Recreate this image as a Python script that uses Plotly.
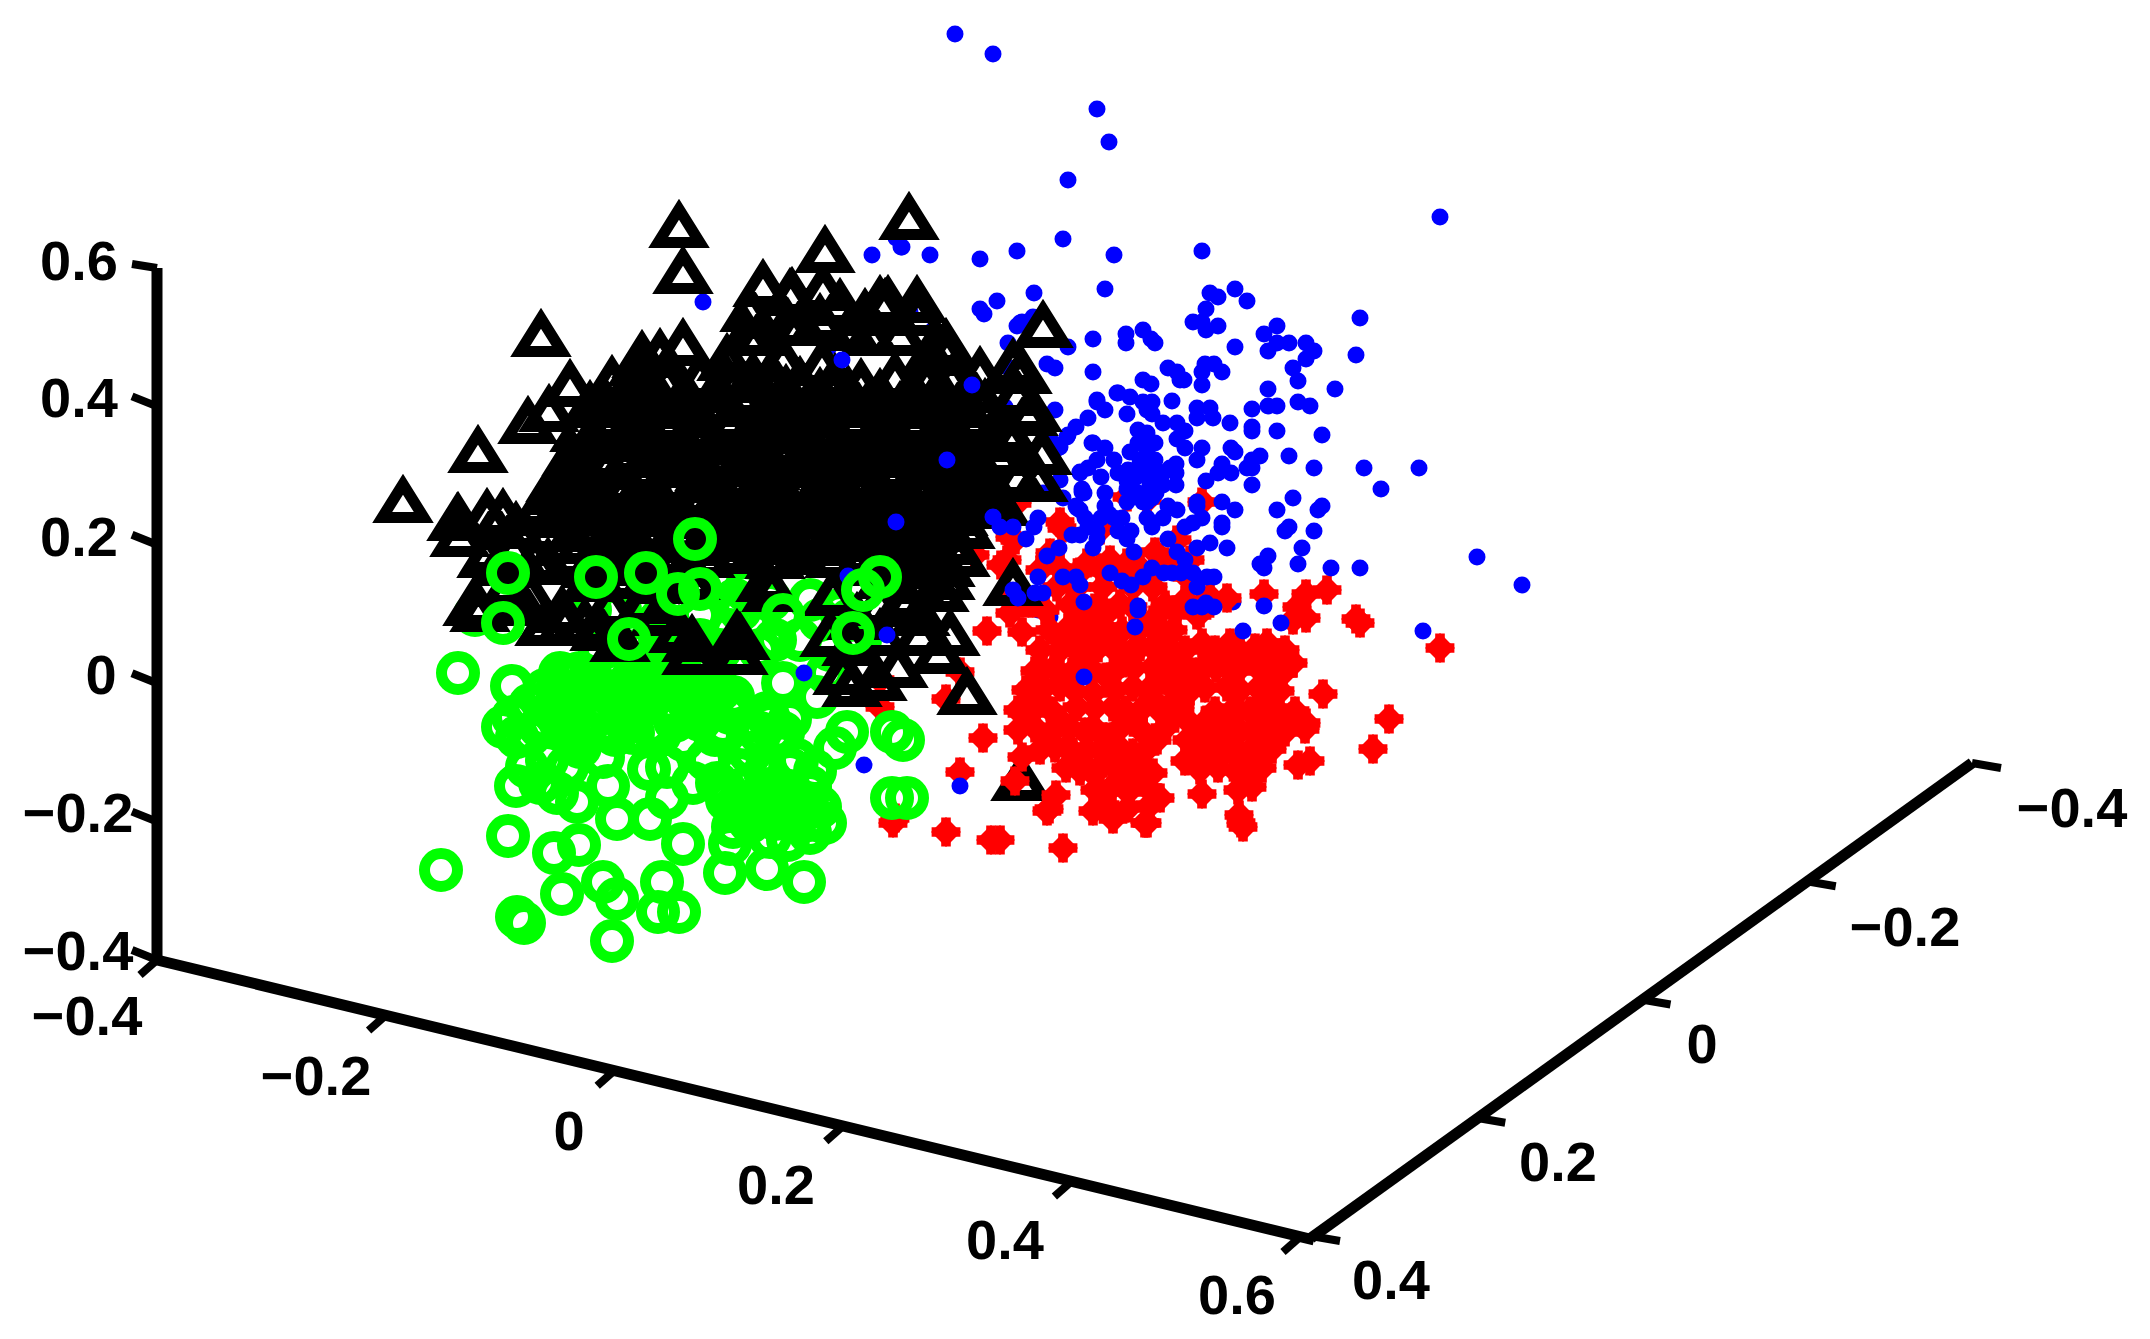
import plotly.graph_objects as go

# Positions on the view plane of the 3-D plot
blue = [(955,34),(993,54),(1097,109),(1109,142),(1068,180),(1063,239),(1114,255),(1202,251),(1017,251),(980,259),(930,255),(902,247),
(1034,293),(1105,289),(997,301),(980,309),(984,314),(1210,293),(1218,297),(1235,289),(1247,301),(1206,309),(1193,322),(1202,322),(1218,326),(1206,330),
(1277,326),(1264,334),(1277,343),(1289,343),(1268,351),(1235,347),(1126,334),(1126,343),(1143,330),(1151,339),(1155,343),(1093,339),(1068,347),(1093,372),
(1047,364),(1055,368),(1168,368),(1177,372),(1184,380),(1180,380),(1205,364),(1214,364),(1202,372),(1222,372),(1202,385),(1143,380),(1151,384),
(1118,393),(1130,397),(1097,400),(1143,402),(1152,402),(1268,389),(1293,368),(1298,381),(1017,326),(1022,322),(1033,317),(1008,343),(1009,368),
(1172,401),(1197,408),(1210,408),(1197,418),(1213,418),(1230,423),(1252,409),(1252,427),(1252,431),(1268,406),(1277,406),(1298,402),(1310,406),(1335,389),
(1306,359),(1314,351),(1306,343),(1360,318),(1356,355),(1277,431),(1322,435),(1289,456),(1314,468),(1364,468),(1381,489),(1293,498),(1277,510),(1318,510),(1322,506),
(1289,527),(1285,531),(1314,531),(1302,548),(1298,564),(1268,556),(1260,564),(1264,568),(1331,568),(1360,568),(1227,548),(1197,548),(1210,543),(1222,523),(1222,527),
(1222,502),(1235,510),(1252,485),(1231,448),(1235,452),(1260,456),(1252,460),(1247,468),(1252,468),(1222,464),(1218,473),(1231,473),(1206,481),(1197,460),(1202,448),
(1185,448),(1177,439),(1185,431),(1177,423),(1163,423),(1138,430),(1147,433),(1155,443),(1130,452),(1138,443),(1147,452),(1155,460),(1138,468),(1147,477),(1155,468),
(1163,473),(1176,464),(1176,473),(1176,485),(1163,485),(1127,481),(1127,489),(1127,502),(1138,493),(1147,502),(1156,493),(1117,393),(1147,410),(1152,414),(1127,414),
(1097,402),(1105,410),(1088,418),(1076,427),(1068,435),(1093,443),(1105,448),(1114,460),(1097,460),(1088,468),(1080,473),(1101,477),(1118,473),
(1082,489),(1084,493),(1063,498),(1076,506),(1080,510),(1085,518),(1088,527),(1101,518),(1097,531),(1097,539),(1080,535),(1072,535),(1093,548),
(1105,493),(1105,506),(1109,514),(1114,518),(1122,518),(1118,531),(1127,539),(1134,552),(1131,531),(1143,502),(1152,498),(1147,518),(1152,527),(1163,518),(1168,506),(1177,510),
(1197,502),(1197,506),(1202,518),(1193,523),(1185,527),(1168,539),(1177,552),(1185,560),(1152,568),(1143,577),(1164,573),(1172,573),(1181,573),(1193,573),(1207,577),(1214,577),(1197,587),
(1110,573),(1122,581),(1131,585),(1063,577),(1076,577),(1080,585),(1084,602),(1138,606),(1138,610),(1193,607),(1202,607),(1206,603),(1214,607),(1264,606),
(1243,631),(1281,623),(1135,627),(1084,677),(1419,468),(1440,217),(1423,631),(1477,557),(1522,585),
(1055,410),(1043,493),(1053,443),(1060,447),(1060,480),(872,255),(896,238),(901,247),(703,302),(829,347),(876,407),(713,472),(930,437),(900,323),(933,330),(910,312),(923,350),
(1020,323),(997,427),(973,403),(1005,407),(1058,448),(1082,492),(1077,508),(1092,443),(1080,472),(1067,437),
(1145,440),(1140,460),(1150,485),(1135,478),(1160,480),(1170,468),(1145,462),(1128,470),(1155,478)]
blue_under = [(1302,617),(1233,602),(1125,653),(1183,658),(1088,653),(1050,617),(1038,610)]
blue_front = [(842,360),(947,460),(972,385),(896,522),(993,517),(1013,590),(1018,598),(1035,593),(1043,593),(1038,577),(1047,556),(1059,548),(1034,527),(1038,518),(1000,527),(1013,527),(1026,539),
(804,673),(848,576),(864,765),(960,786),(887,635)]

red = [(1440,648),(1389,719),(1373,749),(1323,694),(1356,619),(1360,623),(1327,590),(1306,594),(1264,594),(1227,598),(1306,723),(1310,761),(1298,765),(1202,794),(1239,815),(1243,827),
(1063,848),(1000,840),(1047,811),(1093,811),(1113,819),(1147,823),(1160,798),(1185,761),(1243,777),(1257,768),(1243,760),(1267,743),(1280,720),(1260,720),(1022,757),(1022,632),(1022,713),(1033,687),(1060,650),
(1293,663),(1280,653),(1267,643),(1230,643),(1202,643),(1293,620),(1306,618),(1297,607),(1197,615),(1167,637),
(1043,670),(1060,687),(1043,703),(1027,713),(1060,720),(1077,707),(1093,693),(1107,677),(1123,663),(1140,647),(1153,667),(1133,687),(1113,707),(1093,727),(1067,747),(1047,737),(1087,750),(1110,737),(1133,720),(1153,700),
(1173,680),(1187,667),(1207,663),(1227,667),(1247,660),(1267,667),(1283,673),(1267,693),(1260,707),(1230,717),(1207,720),(1187,720),(1170,707),(1187,740),(1157,740),(1133,753),(1113,763),(1093,773),(1133,780),(1153,773),
(1213,740),(1233,733),(1253,733),(1277,720),(1293,717),(1227,687),(1113,637),(1090,643),(1067,637),(1083,620),(1107,613),(1133,607),(1153,587),(1153,620),(1177,610),(1173,630),
(1202,502),(1155,552),(1060,522),(1100,530),(1177,540),(1147,500),(1010,537),(1050,553),(1110,560),(1087,563),(1187,577),(1127,563),(1153,573),(1077,587),(1103,587),(1133,587),(1057,587),(1033,603),(1007,560),(1007,597),(1010,613),(1200,613),(1127,497),(1017,503),
(925,558),(1001,565),(1062,528),(960,772),(983,738),(946,832),(991,840),(895,818),(1145,823),(1241,823),(960,672),(987,631),(946,699),(1056,795),(1049,809),(1015,781),(880,680),(880,707),(893,823),(767,800),(975,555),(945,580),(1028,603),(1015,540)]
red_core = [(1050,630),(1068,628),(1086,632),(1104,627),(1122,631),(1140,629),(1158,632),(1040,650),(1078,652),(1098,648),(1116,651),(1134,649),(1152,647),(1170,650),(1215,650),(1240,651),(1255,648),(1285,650),
(1035,671),(1054,668),(1072,672),(1090,668),(1116,670),(1134,668),(1170,667),(1196,672),(1216,668),(1237,671),(1258,668),(1275,672),
(1026,690),(1044,688),(1075,691),(1115,690),(1150,688),(1190,691),(1205,688),(1240,690),(1258,688),(1280,691),
(1018,710),(1036,708),(1052,711),(1095,708),(1125,710),(1143,708),(1160,711),(1180,708),(1215,711),(1235,708),(1250,711),(1275,708),(1295,711),
(1018,730),(1035,728),(1052,732),(1070,728),(1085,732),(1120,728),(1143,732),(1165,728),(1200,732),(1222,728),(1240,731),(1262,728),(1285,732),(1305,729),
(1040,750),(1055,748),(1073,752),(1100,750),(1120,748),(1145,751),(1195,749),(1210,752),(1228,749),(1250,751),(1272,749),
(1066,768),(1080,771),(1100,768),(1122,771),(1140,768),(1200,770),(1218,768),(1236,771),(1262,768),
(1095,790),(1112,787),(1128,792),(1148,788),(1238,790),(1252,787),(1105,805),(1128,808),(1150,805),
(1040,570),(1060,568),(1080,572),(1100,568),(1120,572),(1140,568),(1170,565),(1190,560),(1045,610),(1070,605),(1095,608),(1120,604),(1165,605),(1185,600),(1210,597),
(1172,650),(1172,665),(1175,690),(1165,680),(1180,700),(1165,650),(1185,650),(1180,680)]

green = [(441,870),(508,836),(458,673),(512,686),(517,917),(524,923),(612,941),(554,853),(579,845),(562,894),(603,882),(617,899),(658,912),(679,912),(662,882),(683,844),(725,873),(767,869),(804,882),
(617,819),(650,819),(667,798),(608,786),(516,786),(577,802),(557,793),(603,757),(649,769),(667,767),(825,823),(788,840),(730,844),(810,833),(835,748),(847,732),(892,732),(903,740),(892,798),(907,798),
(513,717),(503,727),(517,737),(540,727),(560,673),(557,690),(580,673),(607,673),(633,677),(650,680),(677,687),(693,700),(560,713),(580,727),(603,703),(627,713),(650,727),(633,733),(683,740),(707,760),
(767,713),(783,733),(797,760),(810,787),(750,753),(747,787),(727,800),(777,793),(760,813),(800,807),(733,827),(787,817),(547,760),(567,767),(580,747),(540,783),(527,767),(723,727),(760,733),(693,783),(717,783),
(733,697),(730,713),(783,683),(817,697),(827,673),(475,615),(700,640),(740,610),(770,600),(660,640),(620,610),(800,640),
(570,675),(590,677),(615,674),(640,676),(660,675),(685,678),(700,674),(545,690),(565,692),(590,689),(610,691),(630,690),(655,692),(675,689),(700,691),(720,690),
(530,705),(555,707),(575,704),(595,706),(620,705),(640,707),(665,704),(690,706),(710,705),(735,707),(545,722),(565,719),(590,721),(625,722),(675,721),(700,720),(790,719),(770,721),
(530,735),(570,734),(615,735),(660,734),(715,735),(775,734),
(740,770),(765,772),(790,769),(815,771),(725,790),(770,789),(790,791),(810,790),(735,807),(755,804),(780,806),(800,805),(820,807),(750,822),(775,819),(795,821),(810,820),(770,837),
(590,610),(625,585),(660,620),(700,615),(735,600),(810,600),(840,610),(760,650),(720,650),(680,650),(640,650),(600,650),(830,650),(860,640),(745,590),(775,640),(820,620),(730,630),(850,620)]
green_front = [(695,539),(508,573),(646,573),(596,577),(678,594),(700,589),(503,623),(629,639),(783,615),(863,590),(880,577),(853,633)]

black = [(679,232),(683,278),(541,341),(570,391),(528,428),(549,416),(478,457),(403,507),(604,407),(642,362),(683,350),(553,499),(457,525),(487,520),(503,520),(516,533),(570,483),(580,483),
(909,224),(825,257),(763,291),(750,316),(792,299),(880,307),(888,307),(917,307),(947,360),(980,378),(1043,332),(1013,370),(1017,400),(1028,420),(1038,486),(1032,416),(1013,446),(987,506),(938,513),(725,383),(822,370),(783,366),(753,383),
(967,699),(939,658),(943,528),(877,685),(843,679),(857,624),(740,644),(679,637),(562,617),(548,569),(473,610),(487,562),(514,555),(939,596),(905,603),(898,672),(1042,459),
(480,616),(565,629),(692,646),(737,641),(738,659),(692,659),(833,600),(772,596),(830,641),(852,691),(852,650),(620,646),(766,586),(607,566),(460,541),(458,524),(490,557),(555,520),(1013,590),
(638,370),(660,360),(727,365),(747,340),(788,330),(823,295),(865,320),(885,310),(918,320),(946,350),(1022,378),(790,300),(840,310),(800,330),(760,340),(850,335),(900,340),(930,360),(870,340),(820,325),
(612,387),(640,380),(667,389),(700,383),(737,387),(771,381),(800,388),(835,385),(861,390),(895,383),(927,389),(952,385),
(590,412),(622,408),(650,413),(681,407),(715,411),(745,409),(776,414),(810,408),(840,412),(871,407),(900,413),(931,409),(960,412),(985,410),
(580,436),(611,433),(641,438),(670,434),(702,437),(730,432),(765,438),(796,434),(826,437),(855,432),(886,438),(915,434),(946,436),(975,433),(1005,437),
(572,460),(600,463),(632,458),(662,462),(691,459),(725,464),(755,458),(786,463),(815,459),(848,464),(878,458),(910,462),(940,459),(968,463),(998,460),
(556,486),(585,482),(615,488),(646,484),(680,487),(710,483),(740,488),(771,484),(805,487),(835,482),(865,488),(895,483),(925,487),(955,484),(985,486),(1018,482),
(541,511),(575,508),(605,513),(636,508),(665,512),(700,507),(730,513),(760,508),(790,512),(825,509),(855,513),(885,508),(915,512),(950,509),(975,513),(1000,510),
(550,536),(590,533),(622,538),(651,534),(685,537),(715,533),(745,538),(780,534),(815,537),(845,533),(875,538),(905,534),(935,536),(965,533),
(575,561),(610,558),(640,563),(666,559),(705,562),(740,558),(775,563),(800,559),(835,562),(865,558),(900,563),(930,559),(960,561),
(590,586),(625,583),(655,588),(690,584),(885,583),(915,588),(945,584),
(610,611),(645,608),(905,611),
(626,398),(655,396),(685,399),(718,397),(752,400),(786,396),(820,399),(848,397),(880,400),(912,396),(942,399),(972,397),
(604,424),(636,421),(665,425),(698,422),(730,424),(760,421),(792,425),(825,422),(855,424),(885,422),(915,425),(945,422),(972,424),
(592,448),(625,446),(655,450),(684,447),(716,449),(748,446),(780,450),(810,447),(840,449),(870,446),(900,450),(930,447),(958,449),(988,446),
(570,473),(608,471),(640,474),(672,472),(705,475),(738,471),(770,474),(800,472),(830,475),(860,471),(890,474),(920,472),(950,474),(980,471),
(560,498),(590,496),(622,499),(655,497),(690,500),(722,496),(752,499),(782,497),(815,500),(845,496),(875,499),(905,497),(938,499),(968,496),
(560,522),(592,520),(622,524),(652,521),(685,523),(718,520),(748,524),(775,521),(808,523),(838,520),(868,524),(898,521),(925,523),(958,520),
(568,548),(605,546),(635,549),(668,547),(700,550),(730,546),(762,549),(795,547),(825,550),(855,546),(888,549),(918,547),(950,549),
(590,572),(625,570),(655,573),(688,571),(882,570),(915,573),(945,571),
(510,590),(530,600),(500,570),(535,565),(520,610),(545,630),(585,629),(600,635),(660,620),(880,640),(920,640),(950,640),(880,610),(920,620)]
black_under = [(1021,785)]

# Axes: tick values and labels
x_ticks = [-0.4,-0.2,0,0.2,0.4,0.6]
y_ticks = [-0.4,-0.2,0,0.2,0.4]
z_ticks = [-0.4,-0.2,0,0.2,0.4,0.6]
x_labels = ["−0.4","−0.2","0","0.2","0.4","0.6"]
y_labels = ["−0.4","−0.2","0","0.2","0.4"]
z_labels = ["−0.4","−0.2","0","0.2","0.4","0.6"]
x_label_pos = [(87,1021),(316,1081),(569,1136),(776,1190),(1005,1245),(1237,1300)]
y_label_pos = [(2072,813),(1905,932),(1702,1049),(1558,1167),(1391,1285)]
z_label_pos = [(78,956),(78,818),(101,680),(79,542),(79,403),(79,266)]

def along(p, q, lo, hi, v):
    t = (v - lo) / (hi - lo)
    return p[0] + t * (q[0] - p[0]), p[1] + t * (q[1] - p[1])

XA, XB = (157, 960), (1300, 1237)
YA, YB = (1972, 763), (1311, 1236)
ZA, ZB = (157, 960), (157, 268)

fig = go.Figure()

def pts(data, name, symbol, size, color, lw=0):
    fig.add_trace(go.Scatter(x=[p[0] for p in data], y=[p[1] for p in data], mode="markers", name=name,
        marker=dict(symbol=symbol, size=size, color=color, line=dict(width=lw, color=color))))

def triangles(data, name):
    # open triangle glyph around each point: outer outline, then the hole wound the other way
    xs, ys = [], []
    for x, y in data:
        xs += [x - 30.8, x, x + 30.8, x - 30.8, None, x - 10.8, x + 10.8, x, x - 10.8, None]
        ys += [y + 16, y - 33.3, y + 16, y + 16, None, y + 5, y + 5, y - 12.3, y + 5, None]
    fig.add_trace(go.Scatter(x=xs, y=ys, mode="lines", name=name, fill="toself", fillcolor="#000000",
        line=dict(width=0, color="#000000", simplify=False), hoverinfo="skip"))

triangles(black_under, "class 4")
pts(blue_under, "class 1", "circle", 17, "#0000ff")
pts(red + red_core, "class 2", "diamond", 23, "#ff0000")
pts(red + red_core, "class 2", "cross", 24, "#ff0000")
pts(blue, "class 1", "circle", 17, "#0000ff")
pts(green, "class 3", "circle-open", 33, "#00ff00", 11)
triangles(black, "class 4")
pts(blue_front, "class 1", "circle", 17, "#0000ff")
pts(green_front, "class 3", "circle-open", 33, "#00ff00", 11)

def seg(xs, ys, w):
    fig.add_trace(go.Scatter(x=xs, y=ys, mode="lines", line=dict(color="black", width=w), hoverinfo="skip"))

# axis lines
seg([ZB[0], ZA[0]], [ZB[1], ZA[1] + 2], 11)
seg([XA[0], 1314], [XA[1], 1240], 11)
seg([YA[0], 1311], [YA[1], 1238], 11)

# tick marks
xs, ys = [], []
for v in x_ticks:
    a, b = along(XA, XB, -0.4, 0.6, v)
    xs += [a, a - 17, None]; ys += [b, b + 15, None]
seg(xs, ys, 8)
xs, ys = [], []
for v in y_ticks:
    a, b = along(YA, YB, -0.4, 0.4, v)
    xs += [a, a + 29, None]; ys += [b, b + 5, None]
seg(xs, ys, 8)
xs, ys = [], []
for v in z_ticks:
    a, b = along(ZA, ZB, -0.4, 0.6, v)
    xs += [a, a - 25, None]; ys += [b, b - 10 if v < 0.6 else b - 4, None]
seg(xs, ys, 8)

for pos, lab in ((x_label_pos, x_labels), (y_label_pos, y_labels), (z_label_pos, z_labels)):
    fig.add_trace(go.Scatter(x=[p[0] for p in pos], y=[p[1] for p in pos], mode="text", text=lab,
        textposition="middle center", hoverinfo="skip",
        textfont=dict(family="Liberation Sans", size=56, color="black", weight="bold")))

fig.update_layout(width=2150, height=1339, margin=dict(l=0, r=0, t=0, b=0), showlegend=False,
    paper_bgcolor="white", plot_bgcolor="white",
    xaxis=dict(range=[0, 2150], visible=False, fixedrange=True),
    yaxis=dict(range=[1339, 0], visible=False, fixedrange=True))

fig.write_html("out.html", config=dict(displayModeBar=False),
    post_script="document.body.style.margin='0';document.body.style.overflow='hidden';")
